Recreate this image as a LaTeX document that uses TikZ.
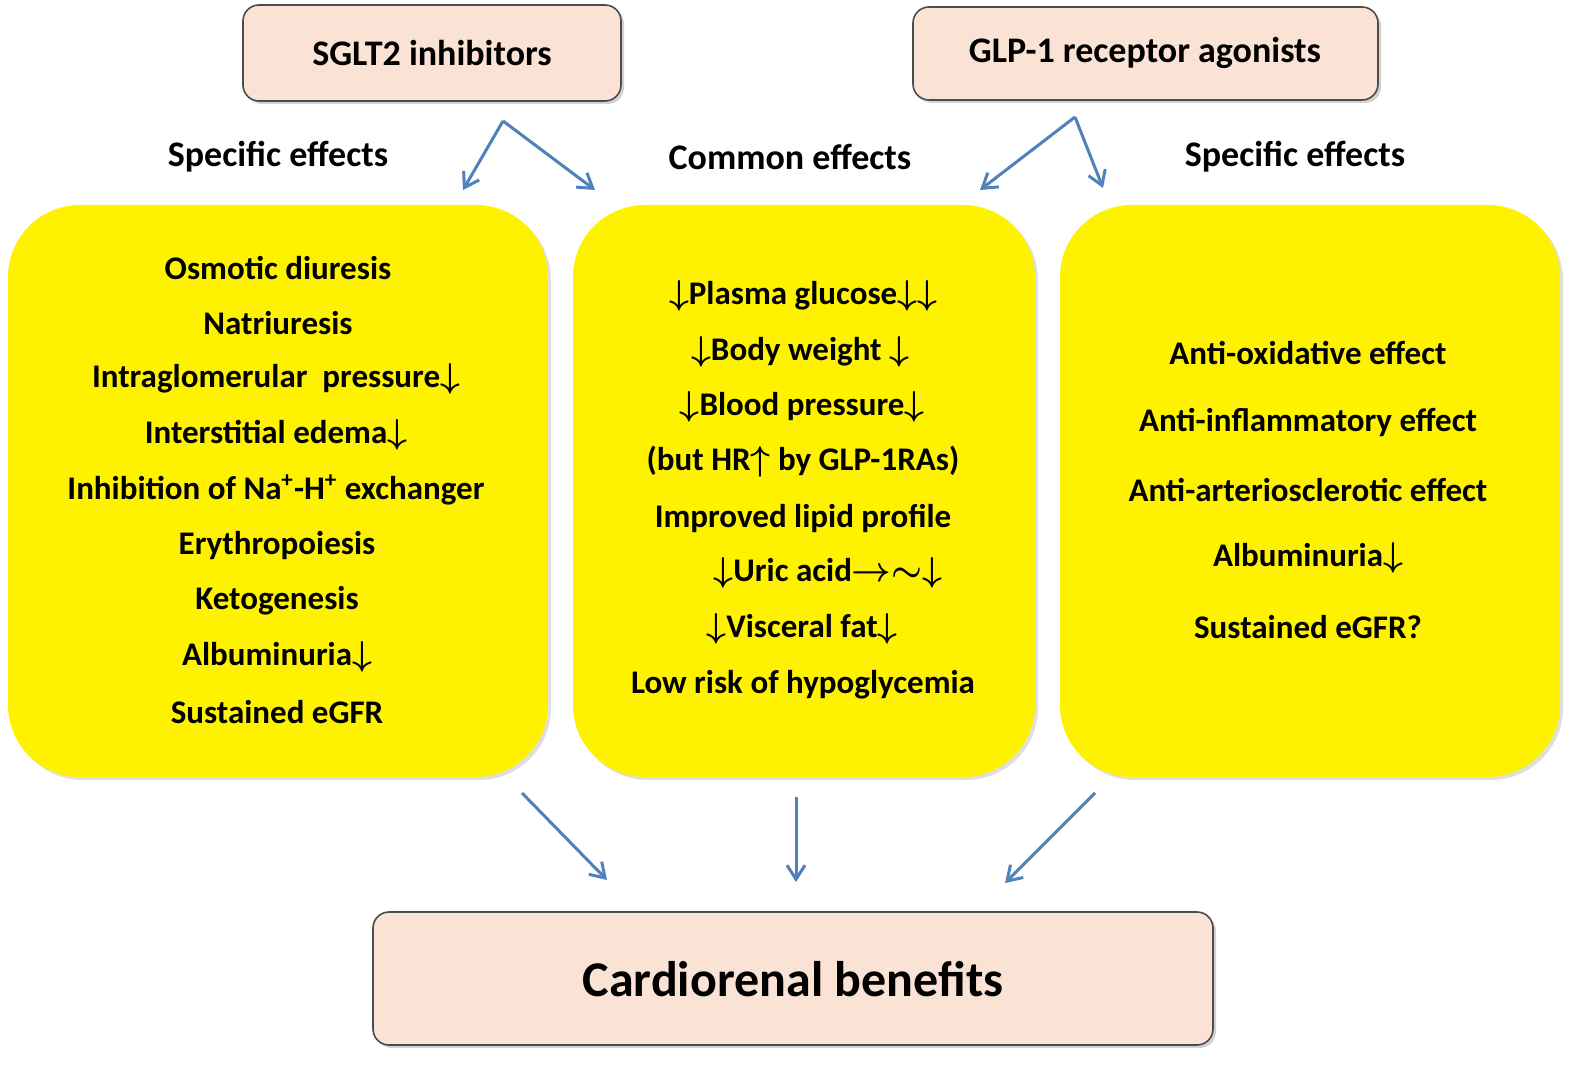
\documentclass[tikz,border=0pt]{standalone}
\usepackage{bm}
\usepackage{fontspec}
\setmainfont{Carlito}
\usetikzlibrary{arrows.meta,shadows}
\newcommand{\dn}{$\bm{\downarrow}$}
\newcommand{\upa}{$\bm{\uparrow}$}
\begin{document}
\begin{tikzpicture}[x=0.5pt,y=-0.5pt,
  drug/.style={draw=black!70,line width=0.8pt,fill={rgb,255:red,250;green,226;blue,212},rounded corners=8pt,drop shadow={opacity=0.35,shadow xshift=1.5pt,shadow yshift=-1.5pt}},
  eff/.style={fill=yellow,rounded corners=36pt,drop shadow={opacity=0.25,shadow xshift=1.5pt,shadow yshift=-1.5pt}},
  arr/.style={-{Straight Barb[length=7pt,width=9pt]},draw={rgb,255:red,79;green,129;blue,189},line width=1.5pt},
  txt/.style={font=\bfseries\fontsize{16.5}{19}\selectfont,anchor=center},
  hd/.style={font=\bfseries\fontsize{18}{21}\selectfont,anchor=center}]
\useasboundingbox (0,0) rectangle (1595,1075);
\fill[white] (0,0) rectangle (1595,1075);
\draw[drug] (243,5) rectangle (621,101);
\node[hd] (sglt) at (432,53) {SGLT2 inhibitors};
\draw[drug] (913,7) rectangle (1378,100);
\node[hd] (glp) at (1145,53) {GLP-1 receptor agonists};
\draw[drug] (373,912) rectangle (1213,1045);
\node[font=\bfseries\fontsize{25}{28}\selectfont] (cb) at (793,979) {Cardiorenal benefits};
\fill[eff] (8,205) rectangle (548,777);
\fill[eff] (573,205) rectangle (1035,777);
\fill[eff] (1060,205) rectangle (1560,777);
\node[hd] (s1) at (278,157) {Specific effects};
\node[hd] (ce) at (790,157) {Common effects};
\node[hd] (s2) at (1295,157) {Specific effects};
\coordinate (a0) at (503,121); \coordinate (a1) at (463,190); \coordinate (a2) at (595,190);
\draw[arr] (a0) -- (a1); \draw[arr] (a0) -- (a2);
\coordinate (b0) at (1075,117); \coordinate (b1) at (980,190); \coordinate (b2) at (1103,188);
\draw[arr] (b0) -- (b1); \draw[arr] (b0) -- (b2);
\coordinate (c0) at (522,793); \coordinate (c1) at (607,880);
\coordinate (d0) at (796,797); \coordinate (d1) at (796,882);
\coordinate (e0) at (1095,793); \coordinate (e1) at (1005,883);
\draw[arr] (c0) -- (c1); \draw[arr] (d0) -- (d1); \draw[arr] (e0) -- (e1);
\node[txt] (l1) at (278,268) {Osmotic diuresis};
\node[txt] (l2) at (278,323) {Natriuresis};
\node[txt] (l3) at (276,379) {Intraglomerular\ \ pressure\dn};
\node[txt] (l4) at (276,435) {Interstitial edema\dn};
\node[txt] (l5) at (276,490) {Inhibition\ of Na\textsuperscript{+}-H\textsuperscript{+} exchanger};
\node[txt] (l6) at (277,546) {Erythropoiesis};
\node[txt] (l7) at (277,601) {Ketogenesis};
\node[txt] (l8) at (277,657) {Albuminuria\dn};
\node[txt] (l9) at (277,712) {Sustained eGFR};
\node[txt] (m1) at (803,296) {\dn Plasma glucose\dn\dn};
\node[txt] (m2) at (800,352) {\dn Body weight \dn};
\node[txt] (m3) at (802,407) {\dn Blood pressure\dn};
\node[txt] (m4) at (803,462) {(but HR\upa\ by GLP-1RAs)};
\node[txt] (m5) at (803,518) {Improved lipid profile};
\node[txt] (m6) at (828,573) {\dn Uric acid$\bm{\rightarrow\sim\downarrow}$};
\node[txt] (m7) at (802,629) {\dn Visceral fat\dn};
\node[txt] (m8) at (803,685) {Low risk of hypoglycemia};
\node[txt] (r1) at (1308,353) {Anti-oxidative\ effect};
\node[txt] (r2) at (1308,422) {Anti-inflammatory\ effect};
\node[txt] (r3) at (1308,490) {Anti-arteriosclerotic effect};
\node[txt] (r4) at (1308,558) {Albuminuria\dn};
\node[txt] (r5) at (1308,627) {Sustained eGFR?};
\end{tikzpicture}
\end{document}
